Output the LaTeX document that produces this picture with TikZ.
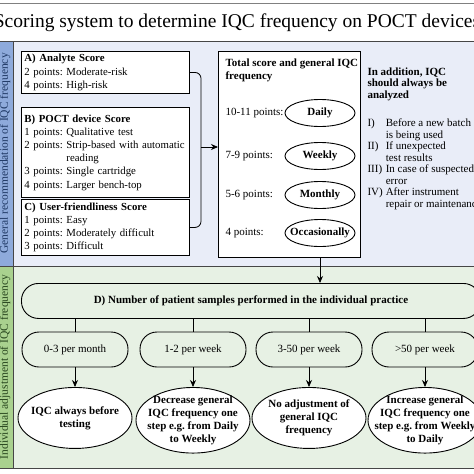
\documentclass[tikz,border=0pt]{standalone}
\usepackage{fontspec}
\setmainfont{Liberation Serif}
\usetikzlibrary{arrows.meta,positioning,shapes.geometric}

\definecolor{panelblue}{RGB}{233,237,248}
\definecolor{bandblue}{RGB}{142,170,219}
\definecolor{panelgreen}{RGB}{231,241,228}
\definecolor{bandgreen}{RGB}{169,209,142}
\definecolor{framegray}{RGB}{70,70,70}
\definecolor{sideblue}{RGB}{31,56,100}
\definecolor{sidegreen}{RGB}{40,70,30}

\begin{document}
\hyphenpenalty=10000
\frenchspacing
\begin{tikzpicture}[x=1pt,y=-1pt,>={Stealth[length=7pt,width=6pt]},font=\fontsize{11}{13}\selectfont]
  % Styles
  \tikzset{scorebox/.style={draw,line width=0.9pt,fill=white,anchor=north west,align=left,
                            text width=162pt,inner xsep=3pt,inner ysep=2pt,
                            font=\fontsize{10.8}{13.2}\selectfont},
           freq/.style={ellipse,draw,line width=0.9pt,fill=white,minimum width=70pt,
                        minimum height=27pt,inner xsep=-6pt,inner ysep=0pt,
                        font=\fontsize{11}{13}\selectfont\bfseries},
           pill/.style={draw,line width=0.9pt,rounded corners=17pt,minimum height=35pt},
           outcome/.style={ellipse,draw,line width=0.9pt,fill=white,anchor=north,align=center,
                           minimum width=114pt,minimum height=61pt,inner xsep=-10.5pt,inner ysep=-1pt,
                           font=\fontsize{11}{12.8}\selectfont\bfseries},
           conn/.style={line width=0.8pt},
           flow/.style={->,line width=0.8pt}}

  \useasboundingbox (0,0) rectangle (474,474);
  \clip (0,0) rectangle (474,474);

  % background panels and side bands
  \fill[panelblue] (13,41) rectangle (474,266);
  \fill[bandblue] (0,41) rectangle (13,266);
  \fill[panelgreen] (13,266) rectangle (474,468);
  \fill[bandgreen] (0,266) rectangle (13,468);
  \draw[gray] (0,3) -- (474,3);
  \draw[framegray,line width=0.8pt] (0,41) -- (474,41) (0,266) -- (474,266)
        (0,468) -- (474,468) (13,41) -- (13,468);
  \node[rotate=90,text=sideblue,font=\fontsize{11.5}{13}\selectfont] (sidetop) at (5,153.5) {General recommendation of IQC frequency};
  \node[rotate=90,text=sidegreen,font=\fontsize{11.5}{13}\selectfont] (sidebot) at (5,367) {Individual adjustment of IQC frequency};

  % title
  \node[anchor=base,font=\fontsize{19.5}{23}\selectfont] (title) at (237,27)
       {Scoring system to determine IQC frequency on POCT devices};

  % score boxes A, B, C
  \node[scorebox,minimum height=42pt] (A) at (21,51)
       {\textbf{A) Analyte Score}\\2 points: Moderate-risk\\4 points: High-risk};
  \node[scorebox,minimum height=90pt] (B) at (21,107)
       {\textbf{B) POCT device Score}\\1 points: Qualitative test\\
        2 points: Strip-based with automatic\\\phantom{2 points: }reading\\
        3 points: Single cartridge\\4 points: Larger bench-top};
  \node[scorebox,minimum height=56pt] (C) at (21,199)
       {\textbf{C) User-friendliness Score}\\1 points: Easy\\2 points: Moderately difficult\\3 points: Difficult};

  % bracket and arrow to the total score
  \coordinate (brk) at (201,147);
  \node[draw,line width=0.9pt,fill=white,anchor=north west,minimum width=142pt,minimum height=206pt] (total) at (218,51) {};
  \draw[conn,rounded corners=6pt] (A.east) -| (brk) |- (C.east);
  \draw[flow] (brk) -- (brk -| total.west);

  % total score and general frequency
  \node[anchor=north west,align=left] (totaltitle) at (222,55) {\textbf{Total score and general IQC}\\\textbf{frequency}};
  \foreach \n/\pts/\fr/\yy in {1/{10-11 points:}/Daily/113, 2/{7-9 points:}/Weekly/156,
                               3/{5-6 points:}/Monthly/195, 4/{4 points:}/Occasionally/233}{%
    \node[anchor=west] (p\n) at (222,\yy) {\pts};
    \node[freq] (f\n) at (320,\yy) {\fr};
  }

  % additional rules
  \node[anchor=north west,align=left,font=\fontsize{11}{11.7}\selectfont\bfseries] (note) at (364,64)
       {In addition, IQC\\should always be\\analyzed};
  \node[anchor=north west,font=\fontsize{11}{11.5}\selectfont] (rules) at (364,115)
       {\begin{tabular}{@{}l@{\hspace{3pt}}l@{}}
          I) & Before a new batch\\ & is being used\\
          II) & If unexpected\\ & test results\\
          III) & In case of suspected\\ & error\\
          IV) & After instrument\\ & repair or maintenance
        \end{tabular}};

  % individual adjustment
  \node[pill,anchor=north west,minimum width=459pt] (D) at (21,283)
       {\textbf{D) Number of patient samples performed in the individual practice}};
  \draw[flow] (f4 |- total.south) -- (f4 |- D.north);

  \foreach \i/\xx/\lab/\res in {1/75/{0-3 per month}/{IQC always before\\testing},
      2/193/{1-2 per week}/{Decrease general\\IQC frequency one\\step e.g. from Daily\\to Weekly},
      3/309/{3-50 per week}/{No adjustment of\\general IQC\\frequency},
      4/425/{>50 per week}/{Increase general\\IQC frequency one\\step e.g. from Weekly\\to Daily}}{%
    \node[pill,minimum width=106pt] (b\i) at (\xx,349.5) {\lab};
    \draw[conn] (D.south -| b\i.north) -- (b\i.north);
    \node[outcome] (o\i) at (\xx,387) {\res};
    \draw[flow] (b\i) -- (o\i);
  }
\end{tikzpicture}
\end{document}
